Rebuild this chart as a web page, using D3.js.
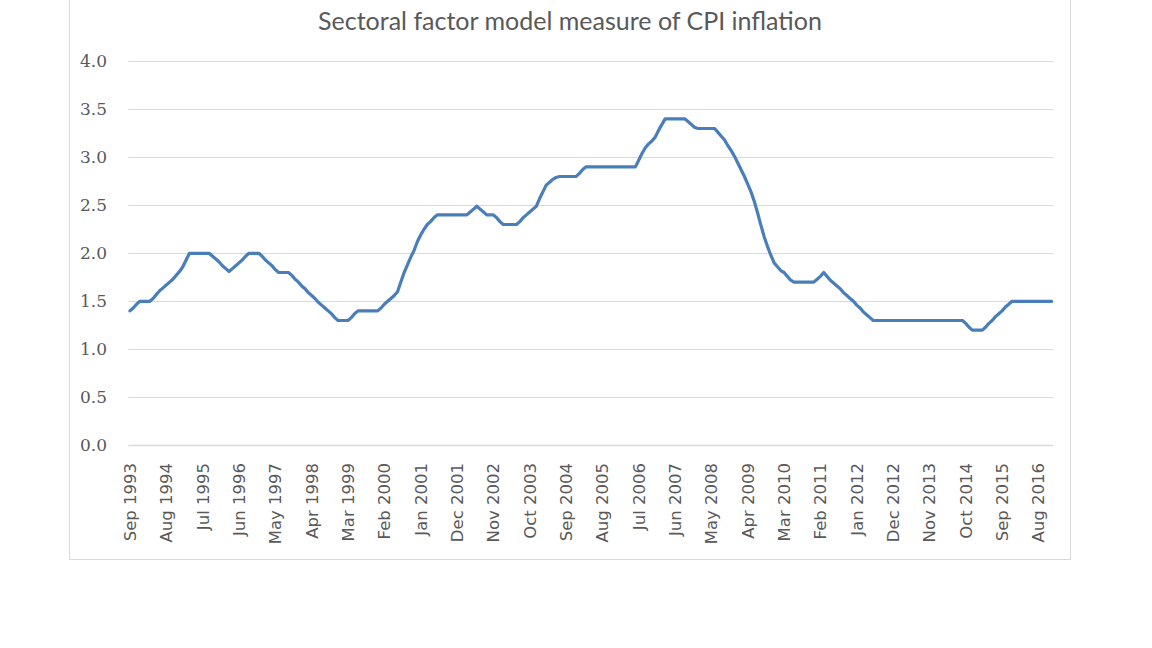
<!DOCTYPE html>
<html>
<head>
  <meta charset="UTF-8">
  <style>
    *{
      margin: 0px;
    }
    body{
      background-color: white;
    }
    svg{
      position: absolute;
      left: 0px;
      top: 0px;
    }
  </style>
  <script src="https://d3js.org/d3.v7.min.js"></script>
</head>

<body>
  <svg id="chart" width="1152" height="648"></svg>

  <script>
    // categories: monthly, Sep 1993 .. Dec 2016 (280 months)
    var startMonth = new Date(1993, 8, 1);
    var monthCount = 280;
    var tickEvery = 11;

    var yTicks = [0, 0.5, 1.0, 1.5, 2.0, 2.5, 3.0, 3.5, 4.0];

    // sectoral factor model measure, one value per month
    var inflation = [
      1.40, 1.43, 1.47, 1.50, 1.50, 1.50, 1.50, 1.53, 1.57, 1.61,
      1.64, 1.67, 1.70, 1.73, 1.77, 1.81, 1.86, 1.93, 2.00, 2.00,
      2.00, 2.00, 2.00, 2.00, 2.00, 1.97, 1.94, 1.91, 1.87, 1.84,
      1.81, 1.84, 1.87, 1.90, 1.93, 1.97, 2.00, 2.00, 2.00, 2.00,
      1.97, 1.93, 1.90, 1.87, 1.83, 1.80, 1.80, 1.80, 1.80, 1.77,
      1.73, 1.70, 1.66, 1.63, 1.59, 1.56, 1.53, 1.49, 1.46, 1.43,
      1.40, 1.37, 1.33, 1.30, 1.30, 1.30, 1.30, 1.33, 1.37, 1.40,
      1.40, 1.40, 1.40, 1.40, 1.40, 1.40, 1.43, 1.47, 1.50, 1.53,
      1.56, 1.60, 1.70, 1.80, 1.88, 1.96, 2.03, 2.12, 2.19, 2.25,
      2.30, 2.33, 2.37, 2.40, 2.40, 2.40, 2.40, 2.40, 2.40, 2.40,
      2.40, 2.40, 2.40, 2.43, 2.46, 2.49, 2.46, 2.43, 2.40, 2.40,
      2.40, 2.37, 2.33, 2.30, 2.30, 2.30, 2.30, 2.30, 2.33, 2.37,
      2.40, 2.43, 2.46, 2.49, 2.57, 2.64, 2.71, 2.74, 2.77, 2.79,
      2.80, 2.80, 2.80, 2.80, 2.80, 2.80, 2.83, 2.87, 2.90, 2.90,
      2.90, 2.90, 2.90, 2.90, 2.90, 2.90, 2.90, 2.90, 2.90, 2.90,
      2.90, 2.90, 2.90, 2.90, 2.97, 3.04, 3.10, 3.14, 3.17, 3.21,
      3.28, 3.34, 3.40, 3.40, 3.40, 3.40, 3.40, 3.40, 3.40, 3.37,
      3.34, 3.31, 3.30, 3.30, 3.30, 3.30, 3.30, 3.30, 3.26, 3.22,
      3.18, 3.12, 3.07, 3.01, 2.94, 2.87, 2.80, 2.72, 2.64, 2.54,
      2.42, 2.29, 2.17, 2.07, 1.98, 1.90, 1.86, 1.82, 1.80, 1.76,
      1.72, 1.70, 1.70, 1.70, 1.70, 1.70, 1.70, 1.70, 1.73, 1.76,
      1.80, 1.76, 1.72, 1.69, 1.66, 1.63, 1.59, 1.56, 1.53, 1.50,
      1.46, 1.43, 1.39, 1.36, 1.33, 1.30, 1.30, 1.30, 1.30, 1.30,
      1.30, 1.30, 1.30, 1.30, 1.30, 1.30, 1.30, 1.30, 1.30, 1.30,
      1.30, 1.30, 1.30, 1.30, 1.30, 1.30, 1.30, 1.30, 1.30, 1.30,
      1.30, 1.30, 1.30, 1.27, 1.23, 1.20, 1.20, 1.20, 1.20, 1.23,
      1.27, 1.30, 1.34, 1.37, 1.40, 1.44, 1.47, 1.50, 1.50, 1.50,
      1.50, 1.50, 1.50, 1.50, 1.50, 1.50, 1.50, 1.50, 1.50, 1.50
    ];

    var title = "Sectoral factor model measure of CPI inflation";

    var months = d3.timeMonth.range(startMonth, d3.timeMonth.offset(startMonth, monthCount));
    var fmt = d3.timeFormat("%b %Y");

    var svg = d3.select("#chart");

    var plotLeft = 128.3, plotRight = 1053.3, plotTop = 61.3, plotBottom = 445.3;

    // chart frame
    svg.append("rect")
      .attr("x", 69.5)
      .attr("y", -5)
      .attr("width", 1001)
      .attr("height", 564.5)
      .attr("fill", "white")
      .attr("stroke", "#d9d9d9")
      .attr("stroke-width", 1);

    var x = d3.scaleBand()
      .domain(months)
      .range([plotLeft, plotRight]);

    var y = d3.scaleLinear()
      .domain([0, 4])
      .range([plotBottom, plotTop]);

    // gridlines
    svg.append("g")
      .selectAll("line")
      .data(yTicks)
      .enter()
      .append("line")
      .attr("x1", plotLeft)
      .attr("x2", plotRight)
      .attr("y1", d => Math.round(y(d)) + 0.5)
      .attr("y2", d => Math.round(y(d)) + 0.5)
      .attr("stroke", "#d9d9d9")
      .attr("stroke-width", d => d === 0 ? 1.5 : 1);

    // y tick labels
    svg.append("g")
      .selectAll("text")
      .data(yTicks)
      .enter()
      .append("text")
      .attr("x", 107)
      .attr("y", d => y(d))
      .attr("dy", "0.36em")
      .attr("text-anchor", "end")
      .attr("fill", "#595959")
      .style("font-family", "'DejaVu Serif'")
      .style("font-size", "17px")
      .text(d => d.toFixed(1));

    // x tick labels, every 11th month
    svg.append("g")
      .selectAll("text")
      .data(months.filter((d, i) => i % tickEvery === 0))
      .enter()
      .append("text")
      .attr("transform", d => "translate(" + (x(d) + x.bandwidth() / 2) + ",463) rotate(-90)")
      .attr("dy", "0.36em")
      .attr("text-anchor", "end")
      .attr("fill", "#595959")
      .style("font-family", "'DejaVu Sans'")
      .style("font-size", "16.5px")
      .text(d => fmt(d));

    // the series
    var line = d3.line()
      .x((d, i) => x(months[i]) + x.bandwidth() / 2)
      .y(d => y(d));

    svg.append("path")
      .datum(inflation)
      .attr("d", line)
      .attr("fill", "none")
      .attr("stroke", "#4a7ebb")
      .attr("stroke-width", 3.2)
      .attr("stroke-linejoin", "round")
      .attr("stroke-linecap", "round");

    // title
    svg.append("text")
      .attr("x", 570)
      .attr("y", 30)
      .attr("text-anchor", "middle")
      .attr("fill", "#595959")
      .style("font-family", "Lato")
      .style("font-size", "25px")
      .text(title);
  </script>
</body>
</html>
